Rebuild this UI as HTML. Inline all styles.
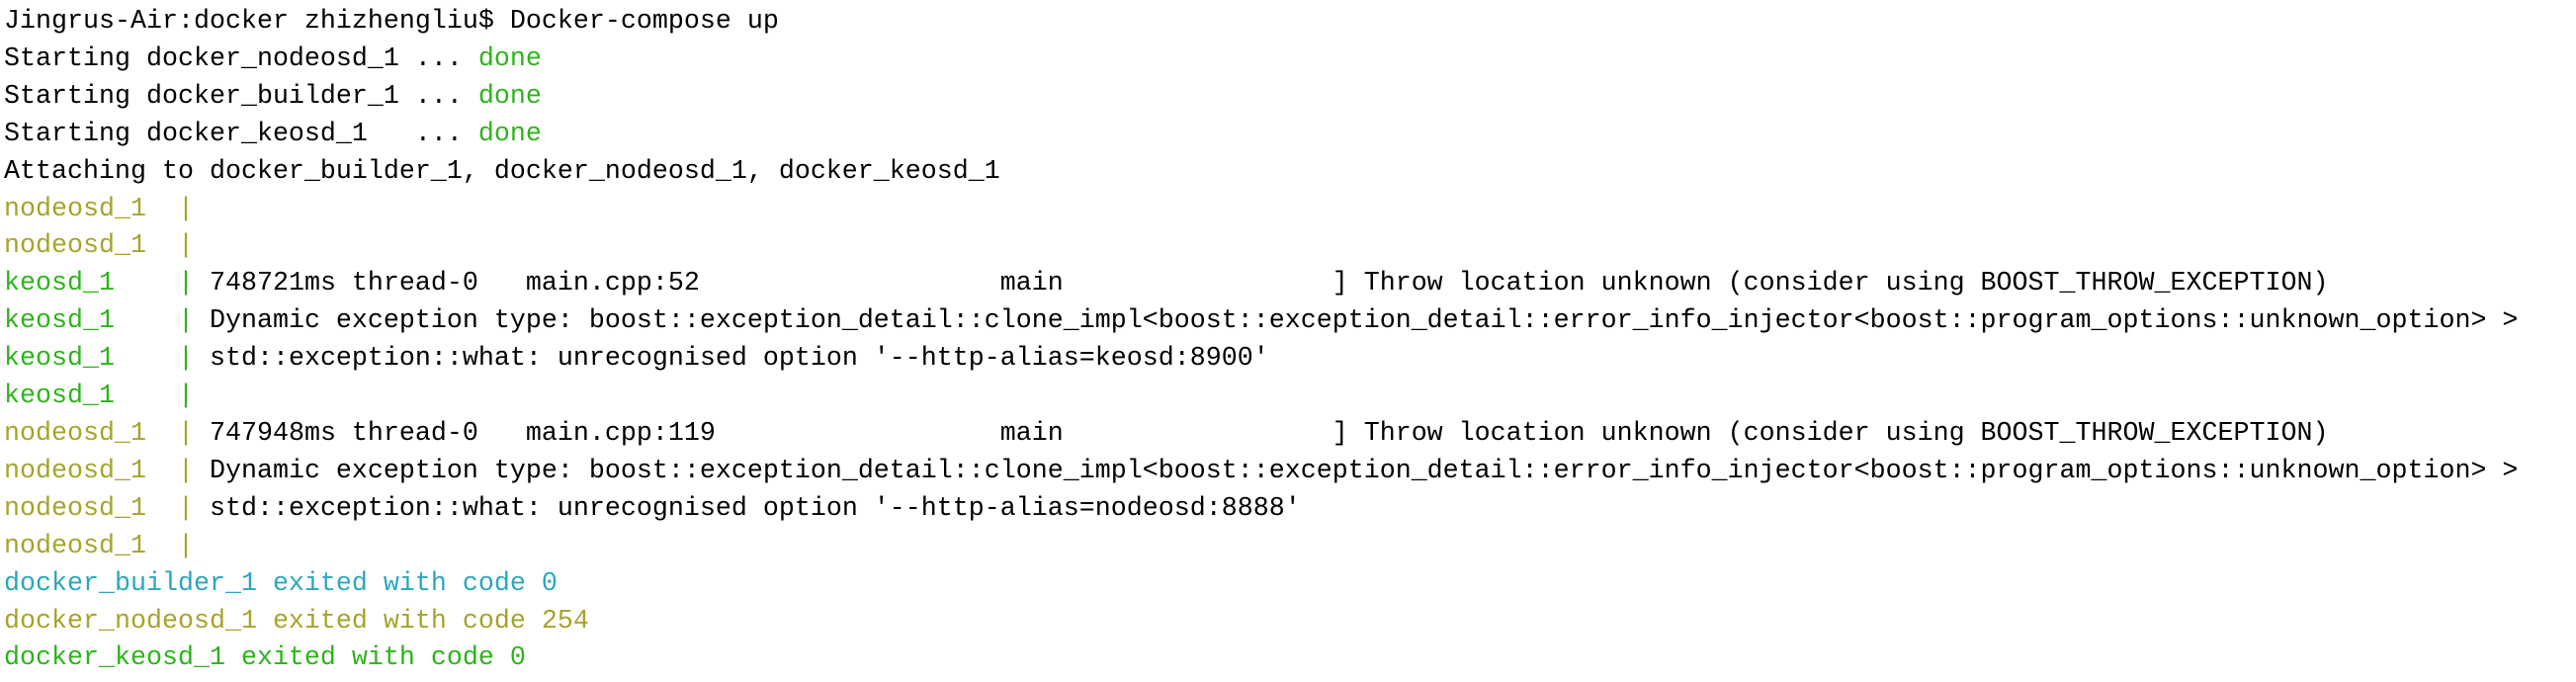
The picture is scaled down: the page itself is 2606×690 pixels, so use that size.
<!DOCTYPE html>
<html><head><meta charset="utf-8"><style>
html,body{margin:0;padding:0;background:#fff;width:2606px;height:690px;overflow:hidden}
pre{margin:0;padding:4px 0 0 4px;font-family:"Liberation Mono",monospace;font-size:26.67px;line-height:37.9px;color:#000;white-space:pre}
.g{color:#2db31b}.o{color:#a6a42a}.c{color:#2aa7bd}
</style></head><body><pre>Jingrus-Air:docker zhizhengliu$ Docker-compose up
Starting docker_nodeosd_1 ... <span class="g">done</span>
Starting docker_builder_1 ... <span class="g">done</span>
Starting docker_keosd_1   ... <span class="g">done</span>
Attaching to docker_builder_1, docker_nodeosd_1, docker_keosd_1
<span class="o">nodeosd_1  |</span>
<span class="o">nodeosd_1  |</span>
<span class="g">keosd_1    |</span> 748721ms thread-0   main.cpp:52                   main                 ] Throw location unknown (consider using BOOST_THROW_EXCEPTION)
<span class="g">keosd_1    |</span> Dynamic exception type: boost::exception_detail::clone_impl&lt;boost::exception_detail::error_info_injector&lt;boost::program_options::unknown_option&gt; &gt;
<span class="g">keosd_1    |</span> std::exception::what: unrecognised option '--http-alias=keosd:8900'
<span class="g">keosd_1    |</span>
<span class="o">nodeosd_1  |</span> 747948ms thread-0   main.cpp:119                  main                 ] Throw location unknown (consider using BOOST_THROW_EXCEPTION)
<span class="o">nodeosd_1  |</span> Dynamic exception type: boost::exception_detail::clone_impl&lt;boost::exception_detail::error_info_injector&lt;boost::program_options::unknown_option&gt; &gt;
<span class="o">nodeosd_1  |</span> std::exception::what: unrecognised option '--http-alias=nodeosd:8888'
<span class="o">nodeosd_1  |</span>
<span class="c">docker_builder_1 exited with code 0</span>
<span class="o">docker_nodeosd_1 exited with code 254</span>
<span class="g">docker_keosd_1 exited with code 0</span></pre></body></html>
